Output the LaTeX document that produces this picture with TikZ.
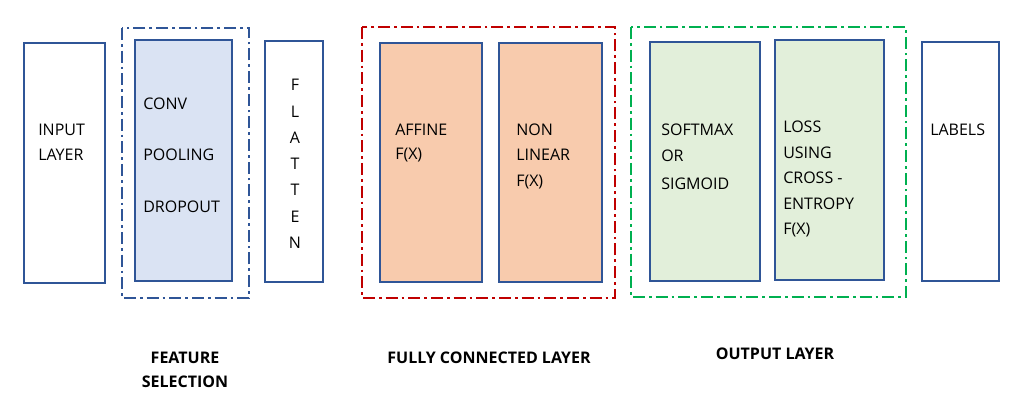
\documentclass[tikz,border=0pt]{standalone}
\usepackage{fontspec}
\setmainfont{Open Sans}
\begin{document}
\begin{tikzpicture}[x=0.75pt,y=-0.75pt,
  box/.style={draw=bdr,line width=1.5pt},
  grp/.style={line width=1.5pt,dash pattern=on 9pt off 3pt on 2pt off 3pt},
  t/.style={anchor=west,font=\fontsize{12}{14}\selectfont,text=black,inner sep=0pt},
  b/.style={font=\bfseries\fontsize{12}{14}\selectfont,align=center,inner sep=0pt}]
\definecolor{bdr}{HTML}{2F5597}
\definecolor{fb}{HTML}{DAE3F3}
\definecolor{fo}{HTML}{F8CBAD}
\definecolor{fg}{HTML}{E2EFDA}
\definecolor{rd}{HTML}{C00000}
\definecolor{gr}{HTML}{00B050}
\useasboundingbox (0,0) rectangle (1024,406);
\draw[grp,draw=bdr] (122,28) rectangle (249,298);
\draw[grp,draw=rd] (362,27) rectangle (615,298);
\draw[grp,draw=gr] (631,27) rectangle (906,297);
\draw[box] (24,43) rectangle (105,283);
\draw[box,fill=fb] (135,40) rectangle (232,281);
\draw[box] (265,41) rectangle (323,282);
\draw[box,fill=fo] (380,43) rectangle (482,282);
\draw[box,fill=fo] (499,43) rectangle (602,282);
\draw[box,fill=fg] (650,42) rectangle (760,281);
\draw[box,fill=fg] (775,40) rectangle (884,280);
\draw[box] (922,42) rectangle (999,281);
\node[t] (i1) at (38,130) {INPUT};
\node[t] (i2) at (38,155) {LAYER};
\node[t] (c1) at (143,104) {CONV};
\node[t] (c2) at (143,155) {POOLING};
\node[t] (c3) at (143,207) {DROPOUT};
\foreach \l [count=\i] in {F,L,A,T,T,E,N}
  \node[t,anchor=center] (f\i) at (295,85+26.3*\i-26.3) {\l};
\node[t] (a1) at (395,130) {AFFINE};
\node[t] (a2) at (395,155) {F(X)};
\node[t] (n1) at (516,130) {NON};
\node[t] (n2) at (516,155) {LINEAR};
\node[t] (n3) at (516,182) {F(X)};
\node[t] (s1) at (661,130) {SOFTMAX};
\node[t] (s2) at (661,156) {OR};
\node[t] (s3) at (661,184) {SIGMOID};
\node[t] (l1) at (783,127) {LOSS};
\node[t] (l2) at (783,153) {USING};
\node[t] (l3) at (783,178) {CROSS -};
\node[t] (l4) at (783,204) {ENTROPY};
\node[t] (l5) at (783,230) {F(X)};
\node[t] (lb) at (930,130) {LABELS};
\node[b] (g1) at (185,370) {FEATURE\\[4pt]SELECTION};
\node[b] (g2) at (489,358) {FULLY CONNECTED LAYER};
\node[b] (g3) at (775,354) {OUTPUT LAYER};
\end{tikzpicture}
\end{document}
